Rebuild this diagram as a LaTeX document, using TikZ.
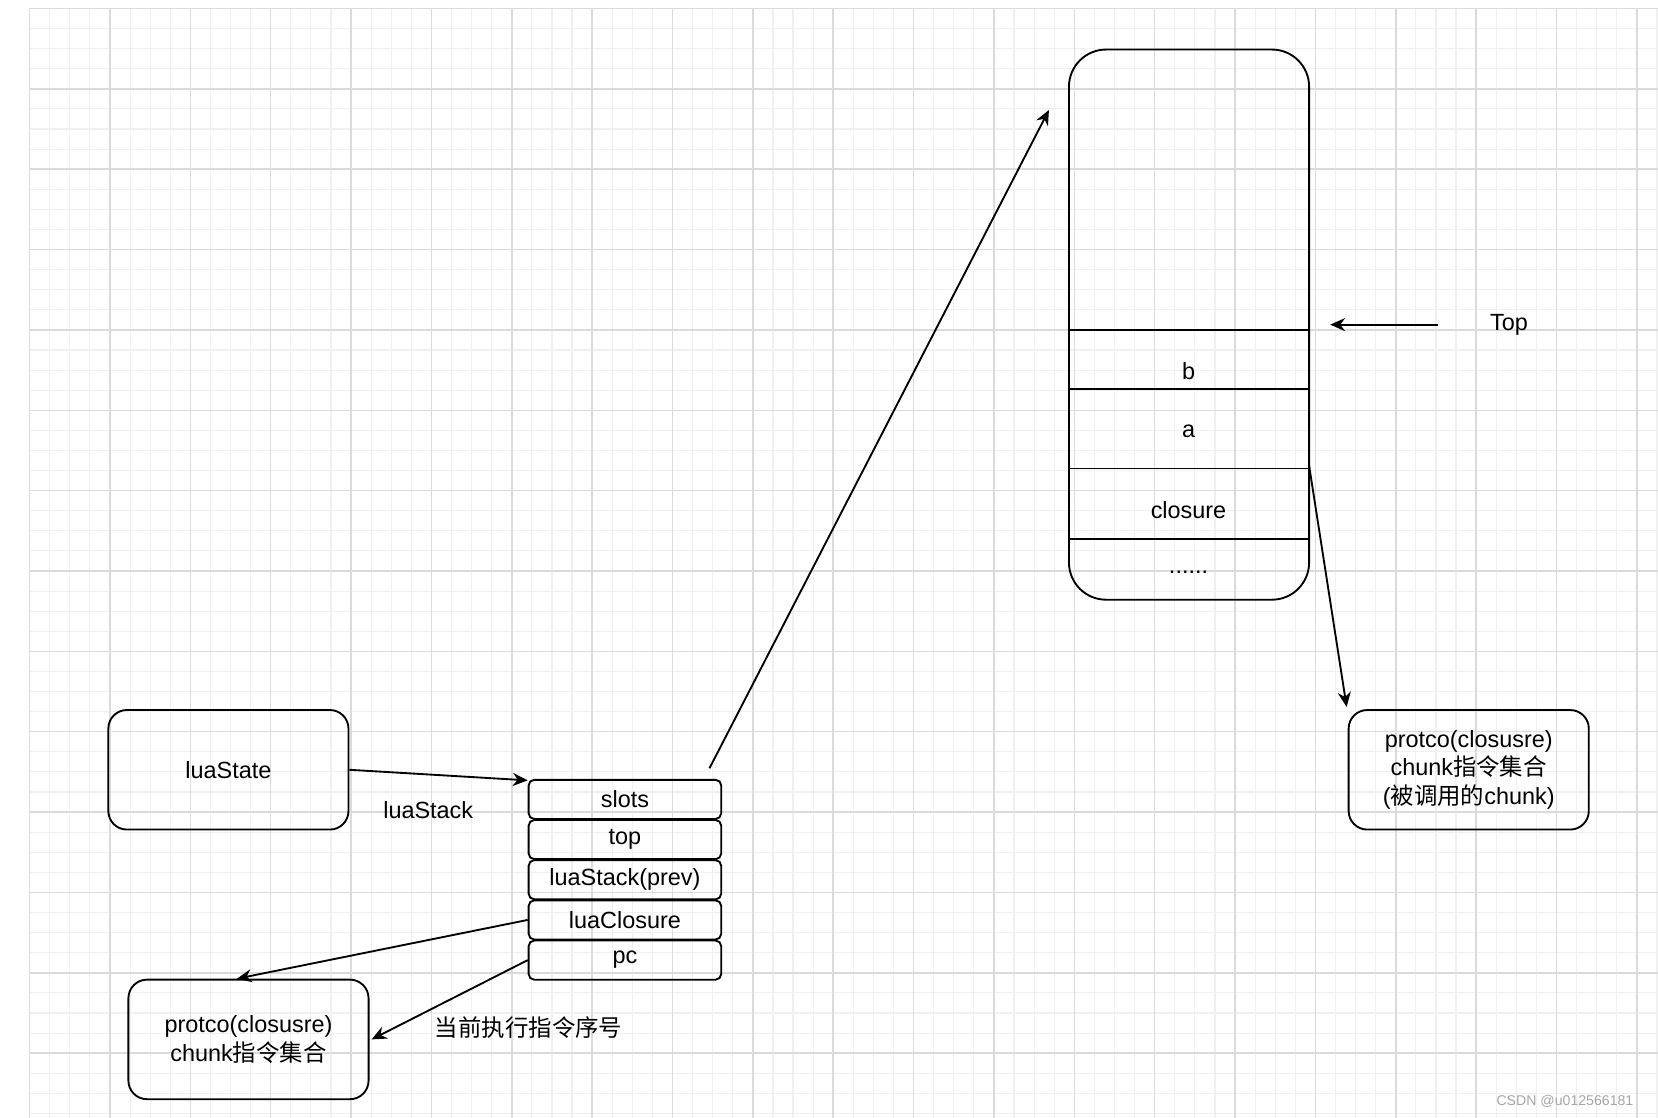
\documentclass[tikz,border=0pt]{standalone}
\usepackage{fontspec}
\setmainfont{Liberation Sans}
\newfontfamily\cjk{Noto Sans CJK SC}
\usetikzlibrary{arrows.meta, positioning, calc}

\begin{document}
\begin{tikzpicture}[
        x=0.01cm, y=-0.01cm,
        box/.style={rectangle, draw=black, line width=0.5pt, rounded corners=5pt, minimum width=2.27cm, minimum height=1.13cm, align=center, font=\fontsize{6.3}{7.6}\selectfont},
        cell/.style={rectangle, draw=black, line width=0.5pt, rounded corners=1.5pt, minimum width=1.82cm, minimum height=0.37cm, inner sep=0pt, font=\fontsize{6.3}{7.6}\selectfont},
        lbl/.style={font=\fontsize{6.3}{7.6}\selectfont, inner sep=1pt},
        flow/.style={-{Stealth[length=4pt, width=3.5pt]}, line width=0.5pt}
    ]
        % BACKGROUND GRID
        \useasboundingbox (0,0) rectangle (1568,1057);
        \fill[white] (0,0) rectangle (1568,1057);
        \foreach \gx in {28,47,...,1568} \draw[gray!12, line width=0.3pt] (\gx,8) -- (\gx,1057);
        \foreach \gy in {8,27,...,1057} \draw[gray!12, line width=0.3pt] (28,\gy) -- (1568,\gy);
        \foreach \gx in {28,104,...,1568} \draw[gray!28, line width=0.4pt] (\gx,8) -- (\gx,1057);
        \foreach \gy in {8,84,...,1057} \draw[gray!28, line width=0.4pt] (28,\gy) -- (1568,\gy);

        % LUA STATE
        \node[box] (lua_state) at (216,728) {luaState};

        % LUA STACK FIELDS
        \node[cell] (slots) at (591,756) {slots};
        \node[cell] (top) at (591,794) {top};
        \node[cell] (prev) at (591,832) {luaStack(prev)};
        \node[cell] (closure_ref) at (591,870) {luaClosure};
        \node[cell] (pc) at (591,908) {pc};

        % CHUNKS
        \node[box] (chunk_cur) at (235,983) {protco(closusre)\\chunk{\cjk 指令集合}};
        \node[box] (chunk_called) at (1389,728) {protco(closusre)\\chunk{\cjk 指令集合}\\({\cjk 被调用的}chunk)};

        % STACK SLOTS
        \node[rectangle, draw=black, line width=0.5pt, rounded corners=10pt, minimum width=2.27cm, minimum height=5.2cm] (slot_stack) at (1124.5,307) {};
        \draw[line width=0.5pt] (1011,312) -- (1238,312);
        \draw[line width=0.5pt] (1011,368) -- (1238,368);
        \draw[line width=0.5pt] (1011,443) -- (1238,443);
        \draw[line width=0.5pt] (1011,510) -- (1238,510);
        \node[lbl] (slot_b) at (1124,351) {b};
        \node[lbl] (slot_a) at (1124,408) {a};
        \node[lbl] (slot_closure) at (1124,482) {closure};
        \node[lbl] (slot_more) at (1124,541) {......};
        \coordinate (slot_top) at (1258,307);
        \coordinate (slot_upper) at (992,104);
        \coordinate (closure_edge) at (1238,440);
        \node[lbl] (top_lbl) at (1427,307) {Top};

        % FLOWS
        \draw[flow] ($(lua_state.east)+(0,0)$) -- ($(slots.west)+(0,-18)$);
        \node[lbl] at (405,766) {luaStack};
        \draw[flow] ($(slots.north east)+(-12,-10)$) -- (slot_upper);
        \draw[flow] (top_lbl.west)++(-45,0) -- (slot_top);
        \draw[flow] (closure_edge) -- ($(chunk_called.north west)+(-1,-2)$);
        \draw[flow] (closure_ref.west) -- ($(chunk_cur.north)+(-11,0)$);
        \draw[flow] (pc.west) -- ($(chunk_cur.east)+(2,0)$);
        \node[lbl] at (500,972) {\cjk 当前执行指令序号};

        % WATERMARK
        \node[font=\fontsize{3.8}{4.5}\selectfont, text=gray!70] at (1480,1042) {CSDN @u012566181};
    \end{tikzpicture}
\end{document}
